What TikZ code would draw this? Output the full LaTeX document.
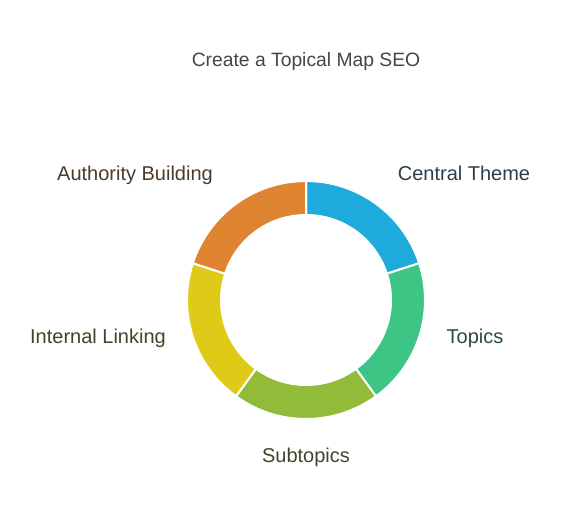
\documentclass[tikz,border=0pt]{standalone}
\usepackage{fontspec}
\setmainfont{Liberation Sans}
\definecolor{cblue}{HTML}{1EABDB}
\definecolor{cgreen}{HTML}{3CC584}
\definecolor{colive}{HTML}{92BB3A}
\definecolor{cyellow}{HTML}{DFCB17}
\definecolor{corange}{HTML}{DF8431}
\definecolor{tblue}{HTML}{2E3E48}
\definecolor{tgreen}{HTML}{2E4A40}
\definecolor{tolive}{HTML}{3E472C}
\definecolor{tyellow}{HTML}{46422A}
\definecolor{torange}{HTML}{4A3B2C}
\definecolor{ttitle}{HTML}{464646}
\begin{document}
\begin{tikzpicture}[x=1pt,y=-1pt,
  lbl/.style={anchor=base,inner sep=0pt,font=\fontsize{20}{24}\selectfont},
  seg/.style={draw=white,line width=2pt,line join=miter}]
\useasboundingbox (0,0) rectangle (565,516);
\fill[white] (0,0) rectangle (565,516);
\coordinate (c) at (306,300);
\def\ro{119}\def\ri{85}
\foreach \a/\col in {90/cblue,18/cgreen,-54/colive,-126/cyellow,-198/corange}{
  \pgfmathsetmacro{\b}{\a-72}
  \path[seg,fill=\col] ([shift={(\a:\ro pt)}]c)
    arc[start angle=-\a,end angle=-\b,radius=\ro]
    -- ([shift={(\b:\ri pt)}]c)
    arc[start angle=-\b,end angle=-\a,radius=\ri] -- cycle;
}
\node[lbl,text=ttitle,font=\fontsize{19.3}{23}\selectfont] (title) at (306,67) {Create a Topical Map SEO};
\node[lbl,text=tblue] (central) at (464,181) {Central Theme};
\node[lbl,text=tgreen] (topics) at (475,343) {Topics};
\node[lbl,text=tolive] (subtopics) at (306,462) {Subtopics};
\node[lbl,text=tyellow] (internal) at (98,343) {Internal Linking};
\node[lbl,text=torange] (authority) at (135,181) {Authority Building};
\end{tikzpicture}
\end{document}
